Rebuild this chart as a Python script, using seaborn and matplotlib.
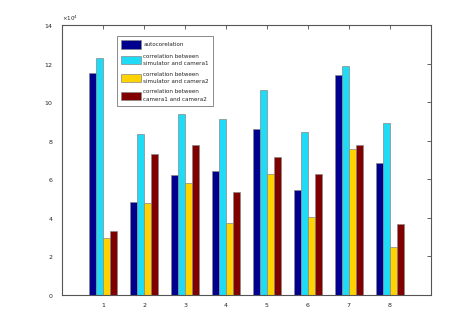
import matplotlib
matplotlib.use("Agg")
import matplotlib.pyplot as plt
import seaborn as sns
import pandas as pd
import numpy as np
from matplotlib.ticker import ScalarFormatter

groups = ["1", "2", "3", "4", "5", "6", "7", "8"]
series = ["autocorelation",
          "correlation between\nsimulator and camera1",
          "correlation between\nsimulator and camera2",
          "correlation between\ncamera1 and camera2"]
autocorr = [11.54, 4.80, 6.22, 6.41, 8.62, 5.44, 11.40, 6.87]
sim_cam1 = [12.32, 8.33, 9.38, 9.12, 10.62, 8.45, 11.90, 8.93]
sim_cam2 = [2.94, 4.78, 5.80, 3.75, 6.30, 4.06, 7.58, 2.50]
cam1_cam2 = [3.32, 7.29, 7.79, 5.35, 7.18, 6.30, 7.76, 3.68]
scale = 1e4
colors = ["#00008F", "#1FDBF5", "#FFD300", "#800000"]

rows = []
for s, vals in zip(series, [autocorr, sim_cam1, sim_cam2, cam1_cam2]):
    for g, v in zip(groups, vals):
        rows.append({"group": g, "series": s, "value": v * scale})
df = pd.DataFrame(rows)

sns.set_style("white")
plt.rcParams['font.family'] = ['DejaVu Sans']
fig = plt.figure(figsize=(4.74, 3.31), dpi=100)
ax = fig.add_axes([0.131, 0.109, 0.778, 0.815])
sns.barplot(data=df, x="group", y="value", hue="series", hue_order=series,
            palette=colors, width=0.7, ax=ax, edgecolor="#888888",
            linewidth=0.5, saturation=1)
ax.set_xlim(-1, 8)
ax.set_ylim(0, 14e4)
ax.set_yticks(np.arange(0, 15e4, 2e4))
fmt = ScalarFormatter(useMathText=True)
fmt.set_powerlimits((4, 4))
ax.yaxis.set_major_formatter(fmt)
ax.yaxis.get_offset_text().set_fontsize(4)
ax.set_xlabel("")
ax.set_ylabel("")
ax.tick_params(axis="both", direction="in", length=3, labelsize=4.5,
               top=True, right=True, width=0.5, pad=6)
for sp in ax.spines.values():
    sp.set_visible(True)
    sp.set_color("#555555")
    sp.set_linewidth(0.8)
leg = ax.legend(loc="upper left", bbox_to_anchor=(0.14, 0.97), fontsize=4.1,
                frameon=True, fancybox=False, edgecolor="#555555",
                handlelength=3.6, handleheight=1.9, labelspacing=0.9,
                borderpad=0.7, handletextpad=0.4)
for t in leg.get_texts():
    t.set_linespacing(1.7)
leg.get_frame().set_linewidth(0.6)
fig.savefig("out.png", dpi=100, facecolor="white")
